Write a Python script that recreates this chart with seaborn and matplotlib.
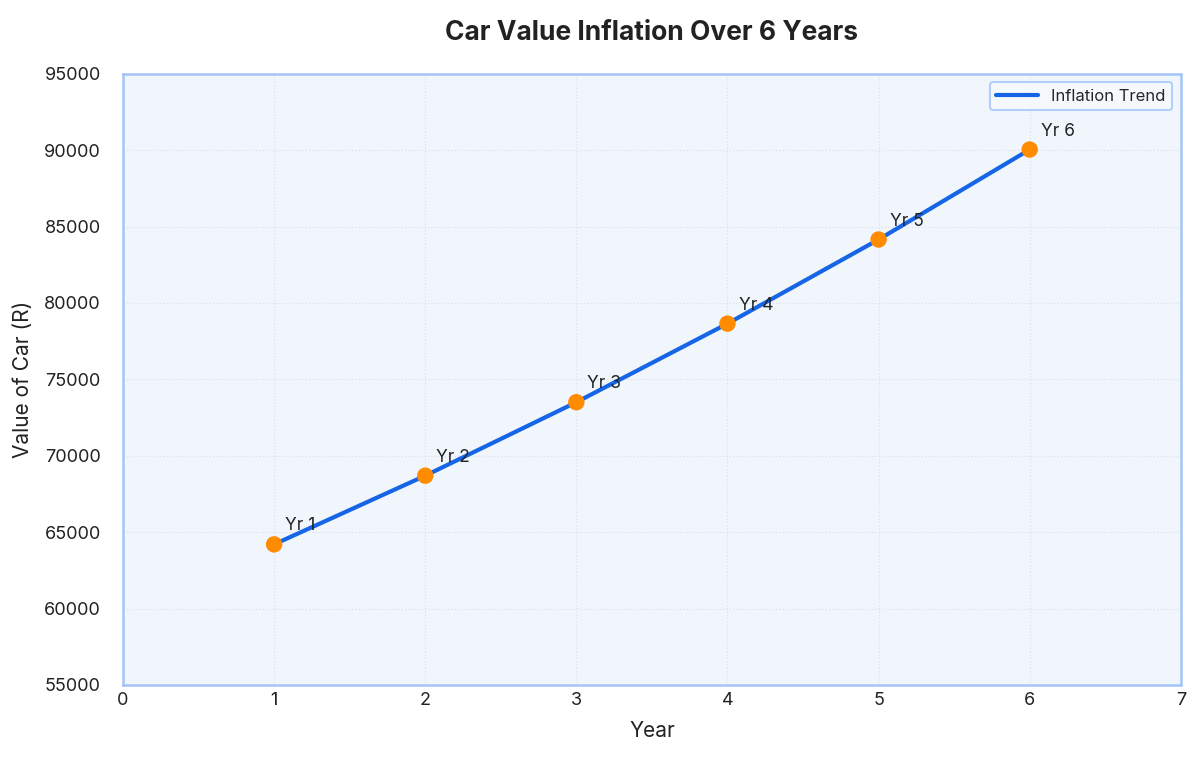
import matplotlib
matplotlib.use("Agg")
import matplotlib.pyplot as plt
import seaborn as sns
import pandas as pd

# Chart data
years = [1, 2, 3, 4, 5, 6]
car_values = [64200, 68694, 73503, 78648, 84153, 90044]
point_labels = ["Yr 1", "Yr 2", "Yr 3", "Yr 4", "Yr 5", "Yr 6"]

df = pd.DataFrame({"Year": years, "Value": car_values})

sns.set_style("white")
plt.rcParams['font.family'] = ['Inter', 'DejaVu Sans']

fig, ax = plt.subplots(figsize=(12, 7.61), dpi=100)
fig.subplots_adjust(left=0.1025, right=0.984, top=0.903, bottom=0.1)

ax.set_facecolor("#f1f6fd")

sns.lineplot(data=df, x="Year", y="Value", ax=ax, color="#1565e6",
             linewidth=3, label="Inflation Trend", zorder=2)
sns.scatterplot(data=df, x="Year", y="Value", ax=ax, color="#ff8c00",
                s=140, edgecolor="none", zorder=3, legend=False)

for x, y, lab in zip(years, car_values, point_labels):
    ax.annotate(lab, (x, y), xytext=(8, 10), textcoords="offset points",
                fontsize=12.5, color="#222222")

ax.set_xlim(0, 7)
ax.set_ylim(55000, 95000)
ax.set_xticks(range(0, 8))
ax.set_yticks(range(55000, 95001, 5000))
ax.tick_params(axis="both", length=0, labelsize=13, colors="#222222")
ax.tick_params(axis="y", pad=16)
ax.tick_params(axis="x", pad=5)

ax.grid(True, linestyle=":", color="#dde3ec", linewidth=0.9)
for sp in ax.spines.values():
    sp.set_color("#a4c5f7")
    sp.set_linewidth(1.8)

ax.set_xlabel("Year", fontsize=15, color="#222222", labelpad=9)
ax.set_ylabel("Value of Car (R)", fontsize=15, color="#222222", labelpad=8)
ax.set_title("Car Value Inflation Over 6 Years", fontsize=19,
             fontweight="bold", color="#222222", pad=24)

leg = ax.legend(loc="upper right", fontsize=12, frameon=True, fancybox=True,
                handlelength=2.5)
leg.get_frame().set_edgecolor("#a4c5f7")
leg.get_frame().set_linewidth(1.5)
leg.get_frame().set_facecolor("#f7faff")

fig.savefig("out.png", dpi=100)
